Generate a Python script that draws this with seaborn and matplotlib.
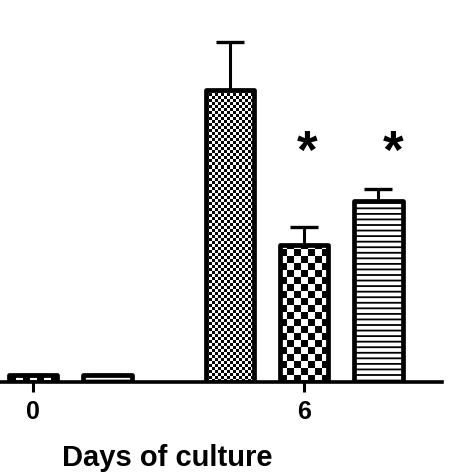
import numpy as np
import pandas as pd
import matplotlib.pyplot as plt
import seaborn as sns

# values (arbitrary units, y axis not shown)
days = ["0", "6"]
groups = ["Group A", "Group B", "Group C"]
means = {"0": [0.8, 0.8, 0.8], "6": [32.3, 15.1, 20.0]}
errs = {"0": [0.0, 0.0, 0.0], "6": [5.3, 2.0, 1.3]}
star_x = [1.013, 1.327]
star_y = [25.2, 25.2]

df = pd.DataFrame({
    "day": np.repeat(days, len(groups)),
    "group": groups * len(days),
    "value": means["0"] + means["6"],
})

sns.set_style("white")
plt.rcParams['font.family'] = ['Liberation Sans', 'DejaVu Sans']
plt.rcParams['text.color'] = 'black'
plt.rcParams['xtick.color'] = 'black'
plt.rcParams['axes.labelcolor'] = 'black'
plt.rcParams['axes.edgecolor'] = 'black'
plt.rcParams['hatch.linewidth'] = 1.3

fig = plt.figure(figsize=(4.74, 4.74), dpi=100)
ax = fig.add_axes([0, 0.1941, 0.9325, 0.7637])

sns.barplot(data=df, x="day", y="value", hue="group", order=days, hue_order=groups,
            palette={g: "white" for g in groups}, saturation=1, width=0.82, gap=0.34,
            errorbar=None, edgecolor="black", linewidth=3.4, legend=False, ax=ax)
bar_conts = list(ax.containers)

ax.set_xlim(-0.1218, 1.509)
ax.set_ylim(0, 40)

px_x = ax.transData.transform((1, 0))[0] - ax.transData.transform((0, 0))[0]
px_y = ax.transData.transform((0, 1))[1] - ax.transData.transform((0, 0))[1]


def checker(bar, cell):
    x0, w, h = bar.get_x(), bar.get_width(), bar.get_height()
    nx = int(np.ceil(w * px_x / cell)) + 1
    ny = int(np.ceil(h * px_y / cell)) + 1
    board = (np.add.outer(np.arange(ny), np.arange(nx)) % 2).astype(float)
    im = ax.imshow(board, cmap="gray", interpolation="nearest", origin="lower",
                   extent=[x0, x0 + nx * cell / px_x, 0, ny * cell / px_y],
                   aspect="auto", zorder=0.5)
    im.set_clip_path(bar)


cells = [3, 7]
for i, cont in enumerate(bar_conts):
    for bar in cont:
        bar.set_joinstyle("round")
        if i < 2:
            bar.set_facecolor("none")
            checker(bar, cells[i])
        else:
            bar.set_hatch("---")

# error bars (upper only)
for i, cont in enumerate(bar_conts):
    xs = [b.get_x() + b.get_width() / 2 for b in cont]
    ys = [b.get_height() for b in cont]
    up = [errs[d][i] for d in days]
    ax.errorbar(xs, ys, yerr=[np.zeros(len(up)), up], fmt="none", ecolor="black",
                elinewidth=2.2, capsize=10, capthick=2.4, zorder=0.8)

for x, y in zip(star_x, star_y):
    ax.text(x, y, "*", ha="center", va="center", fontsize=38, fontweight="bold")

ax.set_xlim(-0.1218, 1.509)
ax.set_ylim(0, 40)
sns.despine(ax=ax, left=True)
ax.spines["bottom"].set_linewidth(2.6)
ax.set_yticks([])
ax.tick_params(axis="x", length=7, width=2.2, pad=6, labelsize=18, bottom=True)
for lab in ax.get_xticklabels():
    lab.set_fontweight("bold")
ax.set_xlabel("Days of culture", fontsize=21, fontweight="bold", va="baseline")
ax.xaxis.set_label_coords(0.378, -0.232)
ax.set_ylabel("")

fig.savefig("out.png", dpi=100)
